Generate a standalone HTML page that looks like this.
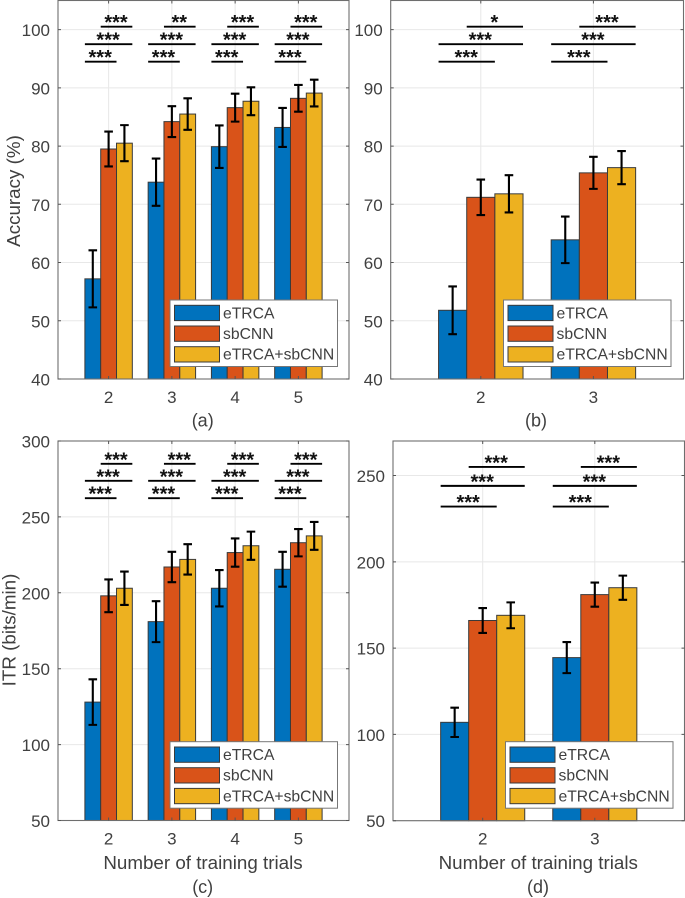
<!DOCTYPE html>
<html lang="en">
<head>
<meta charset="utf-8">
<title>Accuracy and ITR comparison</title>
<style>
html,body{margin:0;padding:0;background:#fff;width:685px;height:898px;overflow:hidden}
svg{display:block;font-family:"Liberation Sans",Arial,sans-serif;filter:blur(0.3px)}
</style>
</head>
<body>
<svg id="figure" xmlns="http://www.w3.org/2000/svg" width="685" height="898" viewBox="0 0 685 898"></svg>
<script>
const seriesNames = ['eTRCA', 'sbCNN', 'eTRCA+sbCNN'];
const seriesColors = ['#0072bd', '#d95319', '#edb120'];

const categoriesWide = [2, 3, 4, 5];
const categoriesNarrow = [2, 3];
const accuracyTicks = [40, 50, 60, 70, 80, 90, 100];
const itrTicksC = [50, 100, 150, 200, 250, 300];
const itrTicksD = [50, 100, 150, 200, 250];

const accAEtrca = [57.2, 73.8, 79.9, 83.2];
const accASbcnn = [79.5, 84.2, 86.6, 88.2];
const accACombo = [80.5, 85.5, 87.7, 89.1];
const accAEtrcaErr = [4.9, 4.05, 3.65, 3.35];
const accASbcnnErr = [3.0, 2.65, 2.4, 2.3];
const accAComboErr = [3.1, 2.7, 2.4, 2.3];
const accASigLevels = [94.5, 97.5, 100.5];
const accASigLabels = [['***','***','***'],['***','***','**'],['***','***','***'],['***','***','***']];

const accBEtrca = [51.8, 63.9];
const accBSbcnn = [71.2, 75.4];
const accBCombo = [71.8, 76.3];
const accBEtrcaErr = [4.1, 4.0];
const accBSbcnnErr = [3.05, 2.75];
const accBComboErr = [3.2, 2.85];
const accBSigLevels = [94.5, 97.5, 100.5];
const accBSigLabels = [['***','***','*'],['***','***','***']];

const itrCEtrca = [128, 181, 203, 215.5];
const itrCSbcnn = [198, 217, 226.5, 233];
const itrCCombo = [203, 222, 231, 237.5];
const itrCEtrcaErr = [15, 13.5, 12, 11.5];
const itrCSbcnnErr = [10.8, 10, 9.3, 9];
const itrCComboErr = [11, 10, 9.3, 9.2];
const itrCSigLevels = [262.3, 273.8, 285];
const itrCSigLabels = [['***','***','***'],['***','***','***'],['***','***','***'],['***','***','***']];

const itrDEtrca = [107, 144.5];
const itrDSbcnn = [166, 181];
const itrDCombo = [169, 185];
const itrDEtrcaErr = [8.5, 9];
const itrDSbcnnErr = [7.2, 7];
const itrDComboErr = [7.5, 7];
const itrDSigLevels = [232, 244, 255];
const itrDSigLabels = [['***','***','***'],['***','***','***']];

const sigSpans = [[0, 1], [0, 2], [1, 2]];
const svg = document.getElementById('figure');
const NS = 'http://www.w3.org/2000/svg';
const INK = '#404040';

function make(parent, tag, attrs, text) {
  const e = document.createElementNS(NS, tag);
  for (const k in attrs) e.setAttribute(k, attrs[k]);
  if (text !== undefined) e.textContent = text;
  parent.appendChild(e);
  return e;
}

function drawPanel(p) {
  const g = make(svg, 'g', {});
  
  

  const sx = v => p.left + (v - p.xMin) / (p.xMax - p.xMin) * (p.right - p.left);
  const sy = v => p.bottom - (v - p.yMin) / (p.yMax - p.yMin) * (p.bottom - p.top);

  const plotBg = make(g, 'rect', {x: p.left, y: p.top, width: p.right - p.left, height: p.bottom - p.top, fill: '#fff'});
  
  

  p.yTicks.forEach(t => {
    const line = make(g, 'line', {x1: p.left, x2: p.right, y1: sy(t), y2: sy(t), stroke: '#e8e8e8', 'stroke-width': 1});
    
    
  });
  p.categories.forEach(c => {
    const line = make(g, 'line', {x1: sx(c), x2: sx(c), y1: p.top, y2: p.bottom, stroke: '#e8e8e8', 'stroke-width': 1});
    
    
  });

  const barW = 0.25;
  p.categories.forEach((c, ci) => {
    p.series.forEach((vals, si) => {
      const cx = c + (si - 1) * barW;
      const x0 = sx(cx - barW / 2), x1 = sx(cx + barW / 2);
      const bar = make(g, 'rect', {x: x0, y: sy(vals[ci]), width: x1 - x0, height: p.bottom - sy(vals[ci]), fill: seriesColors[si], stroke: '#3a3a3a', 'stroke-width': 1});
      
      
    });
  });
  p.categories.forEach((c, ci) => {
    p.series.forEach((vals, si) => {
      const cx = sx(c + (si - 1) * barW);
      const hi = sy(vals[ci] + p.errors[si][ci]), lo = sy(vals[ci] - p.errors[si][ci]);
      const err = make(g, 'path', {d: `M${cx} ${hi}V${lo}M${cx - 4.3} ${hi}H${cx + 4.3}M${cx - 4.3} ${lo}H${cx + 4.3}`, fill: 'none', stroke: '#000', 'stroke-width': 2.1});
      
      
    });
  });

  const frame = make(g, 'rect', {x: p.left, y: p.top, width: p.right - p.left, height: p.bottom - p.top, fill: 'none', stroke: '#6e6e6e', 'stroke-width': 1.1});
  
  
  p.yTicks.forEach(t => {
    const tick = make(g, 'path', {d: `M${p.left} ${sy(t)}h3M${p.right} ${sy(t)}h-3`, stroke: '#555', 'stroke-width': 1, fill: 'none'});
    
    
    const lab = make(g, 'text', {x: p.left - 8, y: sy(t) + 6.5, 'text-anchor': 'end', 'font-size': 17, fill: INK}, String(t));
    
    
  });
  p.categories.forEach(c => {
    const tick = make(g, 'path', {d: `M${sx(c)} ${p.bottom}v-3M${sx(c)} ${p.top}v3`, stroke: '#555', 'stroke-width': 1, fill: 'none'});
    
    
    const lab = make(g, 'text', {x: sx(c), y: p.bottom + 24, 'text-anchor': 'middle', 'font-size': 17, fill: INK}, String(c));
    
    
  });

  p.categories.forEach((c, ci) => {
    sigSpans.forEach((span, li) => {
      const a = sx(c + (span[0] - 1.5) * barW), b = sx(c + (span[1] - 0.5) * barW);
      const y = sy(p.sigLevels[li]);
      const line = make(g, 'line', {x1: a, x2: b, y1: y, y2: y, stroke: '#000', 'stroke-width': 1.9});
      
      
      const star = make(g, 'text', {x: (a + b) / 2 - 0.5, y: y + 2.5, 'text-anchor': 'middle', 'font-size': 20, 'font-weight': 'bold', fill: '#111'}, p.sigLabels[ci][li]);
      
      
    });
  });

  const lg = make(g, 'g', {});
  
  
  make(lg, 'rect', {x: p.legendX, y: p.legendY, width: 167.5, height: 66.5, fill: '#fff', stroke: '#777', 'stroke-width': 1});
  seriesNames.forEach((name, i) => {
    const row = make(lg, 'g', {});
    
    
    const rowY = p.legendY + 5.3 + i * 20.7;
    make(row, 'rect', {x: p.legendX + 4.5, y: rowY, width: 45, height: 15.3, fill: seriesColors[i], stroke: '#3a3a3a', 'stroke-width': 1});
    make(row, 'text', {x: p.legendX + 53, y: rowY + 13, 'font-size': 15.7, fill: INK}, name);
  });

  if (p.xLabel) {
    const xl = make(g, 'text', {x: (p.left + p.right) / 2 - 0.5, y: p.bottom + 48.5, 'text-anchor': 'middle', 'font-size': 18.8, fill: INK}, p.xLabel);
    
    
  }
  if (p.yLabel) {
    const yl = make(g, 'text', {x: 0, y: 0, transform: `translate(${p.yLabelX} ${p.yLabelY}) rotate(-90)`, 'text-anchor': 'middle', 'font-size': 18.8, fill: INK}, p.yLabel);
    
    
  }
  const cap = make(g, 'text', {x: p.capX, y: p.capY, 'text-anchor': 'middle', 'font-size': 18, fill: INK}, p.caption);
  
  
}

drawPanel({id: 'a', left: 58, right: 349, top: 0.5, bottom: 379, xMin: 1.2, xMax: 5.8, yMin: 40, yMax: 105,
  categories: categoriesWide, yTicks: accuracyTicks,
  series: [accAEtrca, accASbcnn, accACombo], errors: [accAEtrcaErr, accASbcnnErr, accAComboErr],
  sigLevels: accASigLevels, sigLabels: accASigLabels,
  legendX: 170, legendY: 300, yLabel: 'Accuracy (%)', yLabelX: 20, yLabelY: 191, caption: '(a)', capX: 202.7, capY: 426.5});

drawPanel({id: 'b', left: 390.7, right: 683.5, top: 0.5, bottom: 379, xMin: 1.2, xMax: 3.8, yMin: 40, yMax: 105,
  categories: categoriesNarrow, yTicks: accuracyTicks,
  series: [accBEtrca, accBSbcnn, accBCombo], errors: [accBEtrcaErr, accBSbcnnErr, accBComboErr],
  sigLevels: accBSigLevels, sigLabels: accBSigLabels,
  legendX: 503.5, legendY: 300, caption: '(b)', capX: 536, capY: 426.5});

drawPanel({id: 'c', left: 58, right: 349, top: 441, bottom: 820.5, xMin: 1.2, xMax: 5.8, yMin: 50, yMax: 300,
  categories: categoriesWide, yTicks: itrTicksC,
  series: [itrCEtrca, itrCSbcnn, itrCCombo], errors: [itrCEtrcaErr, itrCSbcnnErr, itrCComboErr],
  sigLevels: itrCSigLevels, sigLabels: itrCSigLabels,
  legendX: 170, legendY: 741.7, xLabel: 'Number of training trials', yLabel: 'ITR (bits/min)', yLabelX: 15.5, yLabelY: 630, caption: '(c)', capX: 202.7, capY: 893});

drawPanel({id: 'd', left: 393, right: 684.5, top: 441, bottom: 820.7, xMin: 1.2, xMax: 3.8, yMin: 50, yMax: 270,
  categories: categoriesNarrow, yTicks: itrTicksD,
  series: [itrDEtrca, itrDSbcnn, itrDCombo], errors: [itrDEtrcaErr, itrDSbcnnErr, itrDComboErr],
  sigLevels: itrDSigLevels, sigLabels: itrDSigLabels,
  legendX: 505.5, legendY: 741.7, xLabel: 'Number of training trials', caption: '(d)', capX: 538, capY: 893});
</script>
</body>
</html>
